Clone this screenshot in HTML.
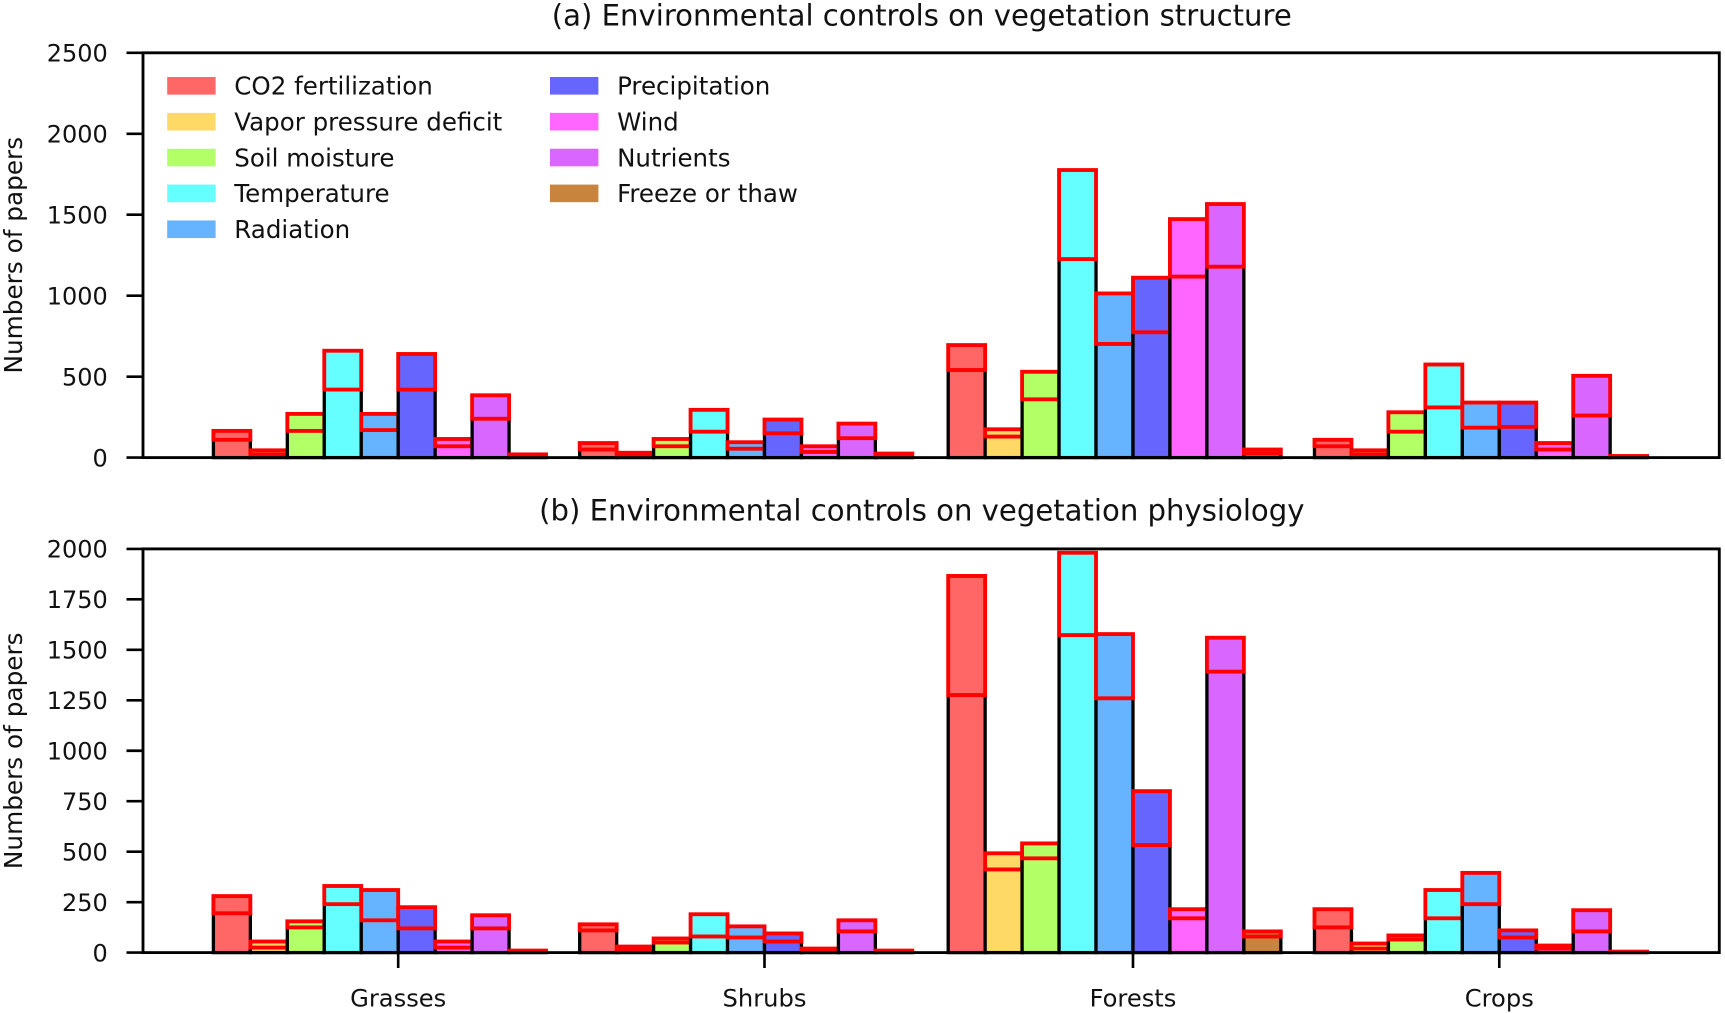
<!DOCTYPE html>
<html><head><meta charset="utf-8"><style>html,body{margin:0;padding:0;background:#fff}svg{display:block}text{font-family:"DejaVu Sans","Liberation Sans",sans-serif;fill:#111}</style></head>
<body>
<svg id="s" width="1725" height="1013" viewBox="0 0 1568.2 920.9" xmlns="http://www.w3.org/2000/svg"></svg>
<script>
const S=document.getElementById('s');let h='';
const cols=['#ff6666','#ffd966','#b3ff66','#66ffff','#66b3ff','#6666ff','#ff66ff','#d966ff','#c8843c'];
const ctr=[362,695,1030,1363],w=33.6,L=130,R=1563;
const A=[[[165,110],[45,20],[270,165],[660,420],[270,170],[640,420],[115,70],[385,240],[20,10]],
[[90,50],[30,15],[115,70],[295,160],[95,55],[235,150],[70,35],[210,120],[25,10]],
[[695,541],[175,130],[530,360],[1776,1226],[1014,702],[1111,774],[1473,1118],[1566,1179],[50,25]],
[[110,70],[45,20],[280,160],[575,310],[340,185],[340,190],[90,50],[505,260],[10,5]]];
const B=[[[280,195],[55,25],[155,125],[330,240],[310,160],[225,120],[55,25],[185,120],[10,5]],
[[140,110],[30,15],[70,50],[190,80],[130,75],[95,55],[20,10],[160,105],[10,5]],
[[1866,1276],[492,412],[541,467],[1981,1573],[1578,1260],[800,533],[215,170],[1560,1392],[105,80]],
[[215,125],[45,20],[85,65],[310,170],[395,240],[110,75],[35,20],[210,105],[5,2]]];
function panel(D,top,bot,max,step,title,ty){
 const sc=(bot-top)/max;
 h+=`<text x="838" y="${ty}" font-size="26.5" text-anchor="middle">${title}</text>`;
 D.forEach((g,gi)=>{g.forEach((v,i)=>{const x=ctr[gi]-5*w+i*w;const yt=bot-v[0]*sc,ys=bot-v[1]*sc;
  h+=`<rect x="${x}" y="${ys}" width="${w}" height="${bot-ys}" fill="${cols[i]}" stroke="#000" stroke-width="3"/>`;
  h+=`<rect x="${x}" y="${yt}" width="${w}" height="${ys-yt}" fill="${cols[i]}" stroke="#f00" stroke-width="3.5"/>`;});});
 for(let v=0;v<=max;v+=step){const y=bot-v*sc;h+=`<line x1="${L-15}" x2="${L}" y1="${y}" y2="${y}" stroke="#000" stroke-width="2.4"/><text x="${L-32}" y="${y+8}" font-size="21.8" text-anchor="end">${v}</text>`;}
 h+=`<rect x="${L}" y="${top}" width="${R-L}" height="${bot-top}" fill="none" stroke="#000" stroke-width="2.6"/>`;
 h+=`<text transform="translate(20,${(top+bot)/2}) rotate(-90)" font-size="22.5" text-anchor="middle">Numbers of papers</text>`;
}
panel(A,48,416,2500,500,'(a) Environmental controls on vegetation structure',23);
panel(B,499,866,2000,250,'(b) Environmental controls on vegetation physiology',473);
['Grasses','Shrubs','Forests','Crops'].forEach((t,i)=>{h+=`<line x1="${ctr[i]}" x2="${ctr[i]}" y1="866" y2="880" stroke="#000" stroke-width="2.4"/><text x="${ctr[i]}" y="915" font-size="22" text-anchor="middle">${t}</text>`;});
const leg=['CO2 fertilization','Vapor pressure deficit','Soil moisture','Temperature','Radiation','Precipitation','Wind','Nutrients','Freeze or thaw'];
leg.forEach((t,i)=>{const c=i<5?0:1,r=i<5?i:i-5;const x=c?500:152,y=78+r*32.6;
 h+=`<rect x="${x}" y="${y-8}" width="44" height="16" fill="${cols[i]}"/><text x="${x+61}" y="${y+8}" font-size="22.3">${t}</text>`;});
S.innerHTML=h;
</script>
</body></html>
